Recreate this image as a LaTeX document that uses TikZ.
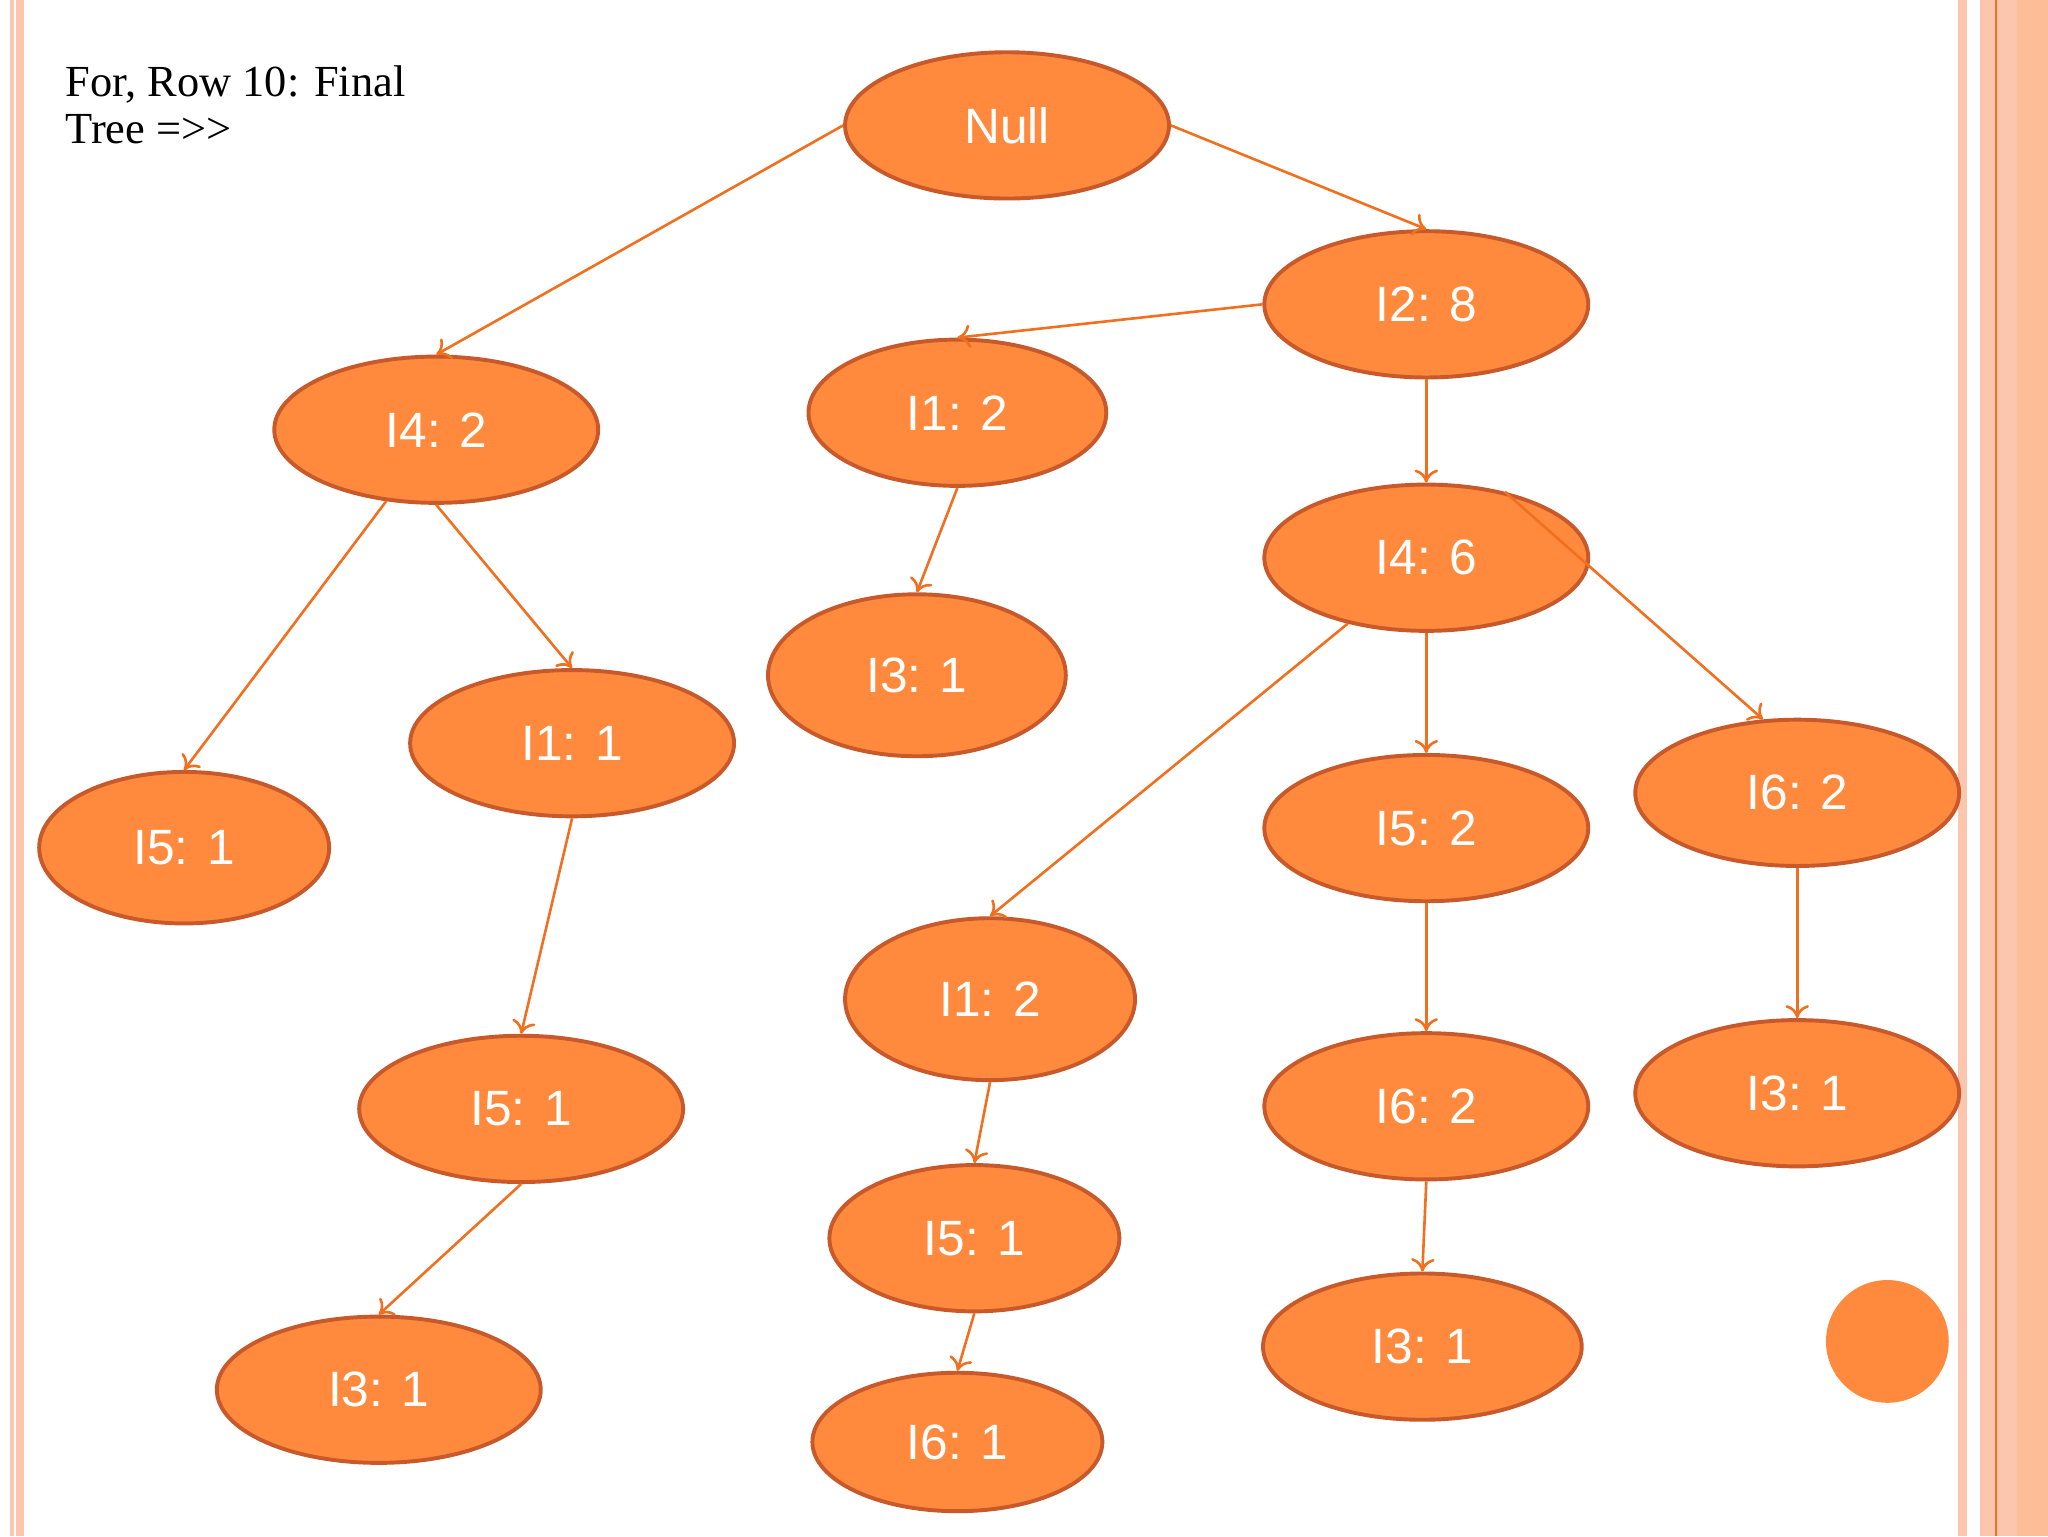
\documentclass[tikz,border=0pt]{standalone}
\usepackage{fontspec}
\setmainfont{Liberation Sans}
\newfontfamily\serifT{Liberation Serif}
\usetikzlibrary{shapes.geometric,arrows.meta}
\definecolor{og}{HTML}{FF8A3D}
\definecolor{ogd}{HTML}{C8592A}
\definecolor{ln}{HTML}{F07020}
\definecolor{pk}{HTML}{FCC5AE}
\tikzset{
 nd/.style={ellipse,fill=og,draw=ogd,line width=3pt,text=white,font=\fontsize{38}{40}\selectfont,inner sep=0pt},
 ar/.style={draw=ln,line width=2pt,-{To[length=10pt,width=18pt]}},
}
\begin{document}
\begin{tikzpicture}[x=1pt,y=-1pt]
\useasboundingbox (0,0) rectangle (1568,1176);
\fill[pk] (8,0) rectangle (11,1176);
\fill[pk] (12,0) rectangle (18,1176);
\fill[pk] (1499,0) rectangle (1506,1176);
\fill[pk] (1516,0) rectangle (1568,1176);
\fill[pk!80!orange!90] (1544,0) rectangle (1568,1176);
\draw[ln,line width=1.5pt] (1528,0) -- (1528,1176);
\node[anchor=north west,align=left,font=\serifT\fontsize{34}{36}\selectfont,inner sep=0pt] (title) at (50,50) {For, Row 10: Final\\Tree =>>};
\node[nd,minimum width=248pt,minimum height=112pt] (null) at (771,96) {Null};
\node[nd,minimum width=248pt,minimum height=112pt] (i28) at (1092,233) {I2: 8};
\node[nd,minimum width=248pt,minimum height=112pt] (i42) at (334,329) {I4: 2};
\node[nd,minimum width=228pt,minimum height=112pt] (i12a) at (733,316) {I1: 2};
\node[nd,minimum width=248pt,minimum height=112pt] (i46) at (1092,427) {I4: 6};
\node[nd,minimum width=228pt,minimum height=124pt] (i31a) at (702,517) {I3: 1};
\node[nd,minimum width=248pt,minimum height=112pt] (i11) at (438,569) {I1: 1};
\node[nd,minimum width=222pt,minimum height=116pt] (i51a) at (141,649) {I5: 1};
\node[nd,minimum width=248pt,minimum height=112pt] (i62a) at (1376,607) {I6: 2};
\node[nd,minimum width=248pt,minimum height=112pt] (i52) at (1092,634) {I5: 2};
\node[nd,minimum width=222pt,minimum height=124pt] (i12b) at (758,765) {I1: 2};
\node[nd,minimum width=248pt,minimum height=112pt] (i51b) at (399,849) {I5: 1};
\node[nd,minimum width=248pt,minimum height=112pt] (i62b) at (1092,847) {I6: 2};
\node[nd,minimum width=248pt,minimum height=112pt] (i31b) at (1376,837) {I3: 1};
\node[nd,minimum width=222pt,minimum height=112pt] (i51c) at (746,948) {I5: 1};
\node[nd,minimum width=248pt,minimum height=112pt] (i31c) at (290,1064) {I3: 1};
\node[nd,minimum width=244pt,minimum height=112pt] (i31d) at (1089,1031) {I3: 1};
\node[nd,minimum width=222pt,minimum height=106pt] (i61) at (733,1104) {I6: 1};
\node[circle,fill=og,minimum size=94pt,inner sep=0pt] (dot) at (1445,1027) {};
\draw[ar] (null.west) -- (i42.north);
\draw[ar] (null.east) -- (i28.north);
\draw[ar] (i28.west) -- (i12a.north);
\draw[ar] (i28.south) -- (i46.north);
\draw[ar] (i42.-125) -- (i51a.north);
\draw[ar] (i42.south) -- (i11.north);
\draw[ar] (i12a.south) -- (i31a.north);
\draw[ar] (i46.-140) -- (i12b.north);
\draw[ar] (i46.south) -- (i52.north);
\draw[ar] (i46.40) -- (i62a.115);
\draw[ar] (i11.south) -- (i51b.north);
\draw[ar] (i51b.south) -- (i31c.north);
\draw[ar] (i12b.south) -- (i51c.north);
\draw[ar] (i51c.south) -- (i61.north);
\draw[ar] (i52.south) -- (i62b.north);
\draw[ar] (i62b.south) -- (i31d.north);
\draw[ar] (i62a.south) -- (i31b.north);
\end{tikzpicture}
\end{document}
